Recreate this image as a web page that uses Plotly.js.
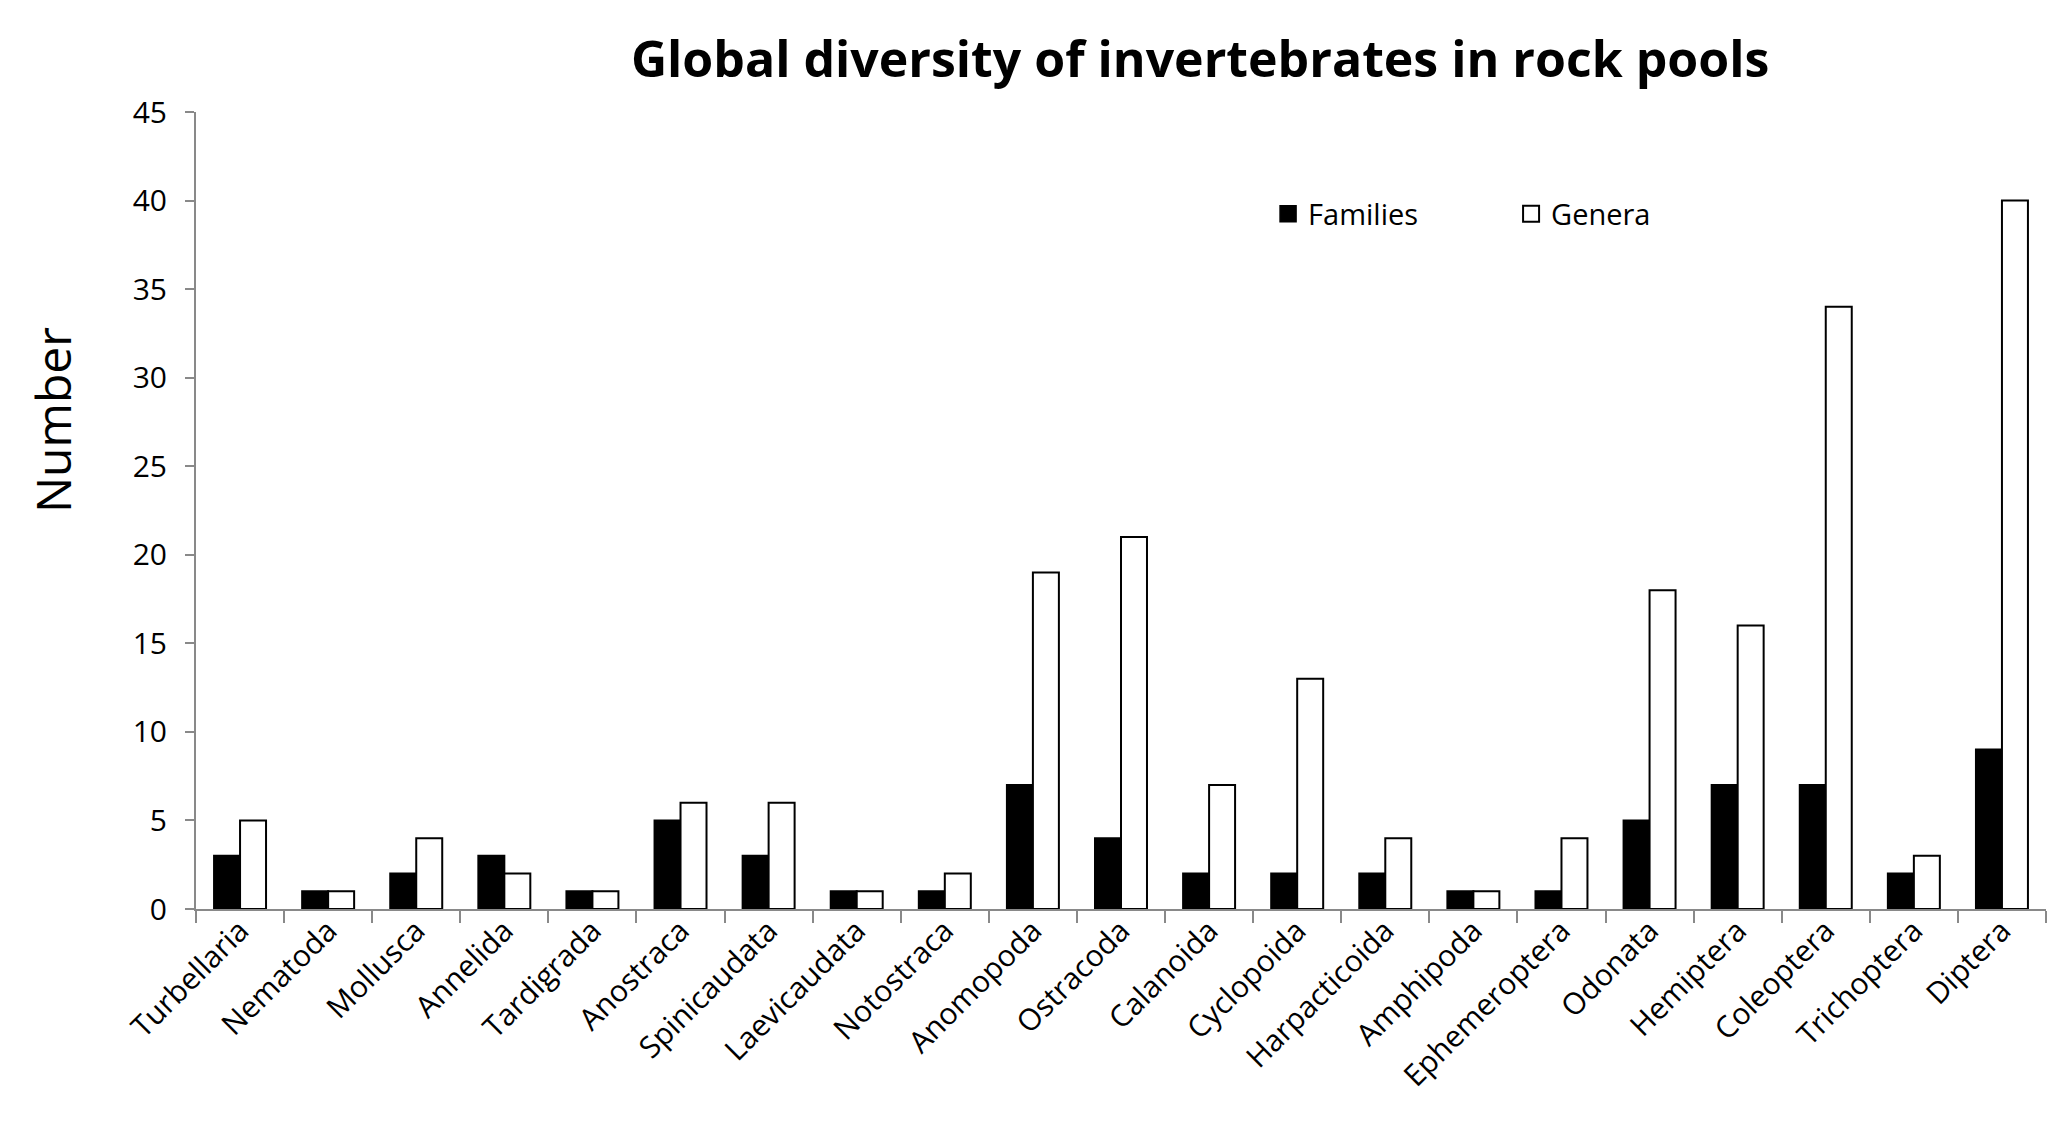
<!DOCTYPE html>
<html>
<head>
<meta charset="utf-8">
<script src="https://cdn.plot.ly/plotly-3.0.1.min.js"></script>
<style>html,body{margin:0;padding:0;background:#fff;}#chart{width:2048px;height:1122px;}</style>
</head>
<body>
<div id="chart"></div>
<script>
const categories = ["Turbellaria","Nematoda","Mollusca","Annelida","Tardigrada","Anostraca","Spinicaudata","Laevicaudata","Notostraca","Anomopoda","Ostracoda","Calanoida","Cyclopoida","Harpacticoida","Amphipoda","Ephemeroptera","Odonata","Hemiptera","Coleoptera","Trichoptera","Diptera"];
const families = [3,1,2,3,1,5,3,1,1,7,4,2,2,2,1,1,5,7,7,2,9];
const genera   = [5,1,4,2,1,6,6,1,2,19,21,7,13,4,1,4,18,16,34,3,40];
const yTicks = [0,5,10,15,20,25,30,35,40,45];
const seriesNames = ["Families","Genera"];

const FONT = "Open Sans, Liberation Sans, sans-serif";

const traces = [
  {type:"bar", name:seriesNames[0], x:categories, y:families, showlegend:false, legendgroup:"f",
   marker:{color:"#000000", line:{color:"#000000", width:2}}},
  {type:"bar", name:seriesNames[1], x:categories, y:genera, showlegend:false, legendgroup:"g",
   marker:{color:"#ffffff", line:{color:"#000000", width:2}}},
  // legend entries (larger square swatches, as in the original)
  {type:"scatter", mode:"markers", name:seriesNames[0], x:[null], y:[null], legendgroup:"f",
   marker:{symbol:"square", size:18, color:"#000000", line:{color:"#000000", width:1.5}}},
  {type:"scatter", mode:"markers", name:seriesNames[1], x:[null], y:[null], legendgroup:"g",
   marker:{symbol:"square", size:18, color:"#ffffff", line:{color:"#000000", width:2}}}
];

const layout = {
  width:2048, height:1122,
  paper_bgcolor:"#ffffff", plot_bgcolor:"#ffffff",
  margin:{l:196, r:2, t:112, b:213},
  font:{family:FONT, color:"#000000", size:24},
  title:{text:"<b>Global diversity of invertebrates in rock pools</b>",
         font:{family:FONT, size:50, color:"#000000"},
         x:0.586, xanchor:"center", y:0.947, yanchor:"middle"},
  barmode:"group", bargap:0.41, bargroupgap:0,
  showlegend:true,
  legend:{orientation:"h", x:0.5795, xanchor:"left", y:0.872, yanchor:"middle",
          font:{family:FONT, size:29, color:"#000000"}, entrywidth:198, bgcolor:"rgba(0,0,0,0)"},
  xaxis:{type:"category", showline:true, linecolor:"#898989", linewidth:2,
         ticks:"outside", tickson:"boundaries", ticklen:12, tickcolor:"#898989", tickwidth:2,
         tickangle:-45, ticklabelstandoff:-10,
         tickfont:{family:FONT, size:30, color:"#000000"},
         showgrid:false, zeroline:false, automargin:false},
  yaxis:{range:[0,45], tickvals:yTicks, ticktext:yTicks.map(String),
         showline:true, linecolor:"#898989", linewidth:2,
         ticks:"outside", ticklen:9, tickcolor:"#898989", tickwidth:2,
         ticklabelstandoff:12,
         tickfont:{family:FONT, size:30, color:"#000000"},
         showgrid:false, zeroline:false, automargin:false},
  annotations:[{text:"Number", xref:"paper", yref:"paper", x:-0.0778, y:0.6135,
                xanchor:"center", yanchor:"middle", textangle:-90, showarrow:false,
                font:{family:FONT, size:48, color:"#000000"}}]
};

Plotly.newPlot("chart", traces, layout, {displayModeBar:false, staticPlot:true});
</script>
</body>
</html>
